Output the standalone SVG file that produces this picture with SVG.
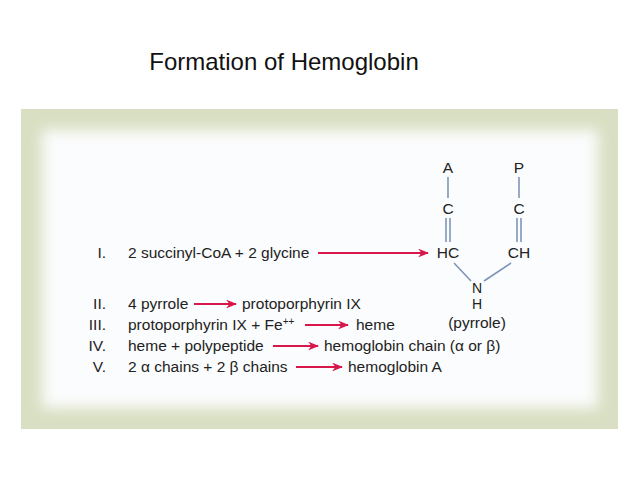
<svg xmlns="http://www.w3.org/2000/svg" width="638" height="478" viewBox="0 0 638 478">
<defs>
<style>
text{font-family:"Liberation Sans",Arial,sans-serif;font-size:15.5px;fill:#222}
.c{text-anchor:middle}
.r{text-anchor:end}
.a{stroke:#d8174a;stroke-width:2;fill:none;marker-end:url(#h)}
.b{stroke:#7f95b8;stroke-width:1.6;fill:none}
</style>
<marker id="h" viewBox="0 0 10 8" refX="9" refY="4" markerWidth="5.5" markerHeight="4.4" orient="auto" markerUnits="strokeWidth"><path d="M0,0L10,4L0,8L3,4z" fill="#d8174a"/></marker>
<filter id="bl" x="-10%" y="-10%" width="120%" height="120%"><feGaussianBlur stdDeviation="7"/></filter>
</defs>
<rect width="638" height="478" fill="#fff"/>
<text x="284" y="70" class="c" style="font-size:24px;fill:#111">Formation of Hemoglobin</text>
<g id="frame">
<rect x="21" y="109" width="597" height="320" fill="#d9dfc2"/>
<rect x="42" y="130" width="556" height="278" fill="#fbfcfd" filter="url(#bl)"/>
</g>
<g id="pyrrole">
<text x="448" y="173" class="c">A</text>
<text x="519" y="173" class="c">P</text>
<text x="448" y="214" class="c">C</text>
<text x="519" y="214" class="c">C</text>
<text x="448" y="258" class="c">HC</text>
<text x="519" y="258" class="c">CH</text>
<text x="477" y="293" class="c" style="font-size:14px">N</text>
<text x="477" y="309" class="c" style="font-size:14px">H</text>
<text x="477" y="328" class="c">(pyrrole)</text>
<path class="b" d="M448,177V198M519,177V198M446,218V242M450,218V242M517,218V242M521,218V242M454,263L471,281M511,263L484,281"/>
</g>
<g id="steps">
<text x="106" y="258" class="r">I.</text>
<text x="128" y="258">2 succinyl-CoA + 2 glycine</text>
<text x="106" y="309" class="r">II.</text>
<text x="128" y="309">4 pyrrole</text>
<text x="242" y="309">protoporphyrin IX</text>
<text x="106" y="330" class="r">III.</text>
<text x="128" y="330">protoporphyrin IX + Fe<tspan dy="-5" style="font-size:10px">++</tspan></text>
<text x="356" y="330">heme</text>
<text x="106" y="351" class="r">IV.</text>
<text x="128" y="351">heme + polypeptide</text>
<text x="324" y="351">hemoglobin chain (α or β)</text>
<text x="106" y="372" class="r">V.</text>
<text x="128" y="372">2 α chains + 2 β chains</text>
<text x="348" y="372">hemoglobin A</text>
</g>
<g id="connectors">
<path class="a" d="M318,253H428"/>
<path class="a" d="M194,304H236"/>
<path class="a" d="M305,325H348"/>
<path class="a" d="M273,346H318"/>
<path class="a" d="M296,367H342"/>
</g>
</svg>
